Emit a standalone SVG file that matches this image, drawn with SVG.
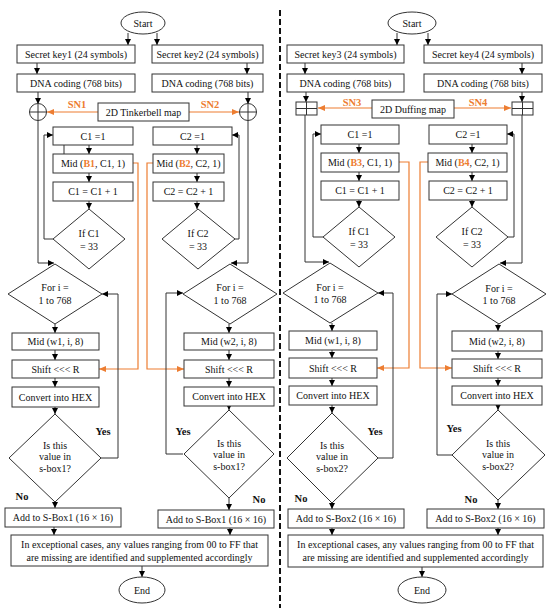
<svg xmlns="http://www.w3.org/2000/svg" width="550" height="608" viewBox="0 0 550 608">
<defs>
<marker id="ah" markerWidth="6" markerHeight="6" refX="6" refY="3" orient="auto" markerUnits="userSpaceOnUse"><path d="M0,0 L6,3 L0,6 z" fill="#000"/></marker>
<marker id="ao" markerWidth="7" markerHeight="6" refX="7" refY="3" orient="auto" markerUnits="userSpaceOnUse"><path d="M0,0 L7,3 L0,6 z" fill="#ED7D31"/></marker>
<style>
.b{fill:#fff;stroke:#333;stroke-width:1}
.t{font-family:"Liberation Serif","Times New Roman",serif;font-size:10px;fill:#111;text-anchor:middle}
.o{font-family:"Liberation Serif","Times New Roman",serif;font-size:10.5px;fill:#ED7D31;font-weight:bold}
.l{font-family:"Liberation Serif","Times New Roman",serif;font-size:10.5px;fill:#111;font-weight:bold;text-anchor:middle}
.s{fill:none;stroke:#333;stroke-width:1}
.c{fill:none;stroke:#333;stroke-width:1;marker-end:url(#ah)}
.oc{fill:none;stroke:#ED7D31;stroke-width:1.2;marker-end:url(#ao)}
.d{fill:none;stroke:#111;stroke-width:2;stroke-dasharray:6 3}
</style>
</defs>
<rect width="550" height="608" fill="#fff"/>
<line class="d" x1="280" y1="10" x2="280" y2="608"/>

<g id="connectors">
<!-- left half -->
<path class="c" d="M128,33 V45"/>
<path class="c" d="M157,33 V45"/>
<path class="c" d="M37,63 V74"/>
<path class="c" d="M247,63 V74"/>
<path class="c" d="M38,92 V104"/>
<path class="c" d="M248,92 V104"/>
<path class="oc" d="M98,112 H47"/>
<path class="oc" d="M189,112 H239"/>
<path class="c" d="M38,120 V263 H54"/>
<path class="c" d="M248,120 V263 H231"/>
<path class="c" d="M89,145 V154"/>
<path class="c" d="M89,173 V182"/>
<path class="c" d="M89,201 V209"/>
<path class="c" d="M53,239 H44 V135 H53"/>
<path class="s" d="M64,141 V154"/>
<path class="c" d="M197,145 V154"/>
<path class="c" d="M197,173 V182"/>
<path class="c" d="M197,201 V209"/>
<path class="c" d="M235,239 H239 V135 H232"/>
<path class="oc" d="M133,163 H138 V369 H99"/>
<path class="oc" d="M153,163 H147 V369 H184"/>
<path class="c" d="M55,324 V333"/>
<path class="c" d="M55,350 V360"/>
<path class="c" d="M55,378 V387"/>
<path class="c" d="M55,407 V414"/>
<path class="c" d="M55,502 V508"/>
<path class="c" d="M101,458 H118 V294 H102"/>
<path class="c" d="M229,324 V333"/>
<path class="c" d="M229,350 V360"/>
<path class="c" d="M229,378 V387"/>
<path class="c" d="M229,406 V410"/>
<path class="c" d="M229,498 V510"/>
<path class="c" d="M183,454 H166 V293 H183"/>
<path class="c" d="M54,527 V535"/>
<path class="c" d="M230,528 V535"/>
<path class="c" d="M142,566 V577"/>
<!-- right half -->
<path class="c" d="M397,33 V45"/>
<path class="c" d="M428,33 V45"/>
<path class="c" d="M305,63 V74"/>
<path class="c" d="M522,63 V74"/>
<path class="c" d="M306,92 V102"/>
<path class="c" d="M522,92 V102"/>
<path class="oc" d="M372,108 H318"/>
<path class="oc" d="M454,108 H511"/>
<path class="c" d="M305,115 V262 H329"/>
<path class="c" d="M522,115 V263 H500"/>
<path class="c" d="M359,144 V153"/>
<path class="c" d="M359,172 V181"/>
<path class="c" d="M359,200 V207"/>
<path class="c" d="M323,237 H313 V134 H321"/>
<path class="c" d="M472,144 V153"/>
<path class="c" d="M472,172 V181"/>
<path class="c" d="M472,200 V207"/>
<path class="c" d="M508,237 H514 V134 H507"/>
<path class="oc" d="M399,162 H409 V368 H377"/>
<path class="oc" d="M428,162 H420 V368 H452"/>
<path class="c" d="M332,323 V331"/>
<path class="c" d="M332,350 V358"/>
<path class="c" d="M332,378 V386"/>
<path class="c" d="M332,405 V413"/>
<path class="c" d="M332,503 V509"/>
<path class="c" d="M378,458 H393 V293 H378"/>
<path class="c" d="M498,324 V331"/>
<path class="c" d="M498,351 V359"/>
<path class="c" d="M498,378 V386"/>
<path class="c" d="M498,405 V410"/>
<path class="c" d="M498,500 V509"/>
<path class="c" d="M452,455 H437 V294 H452"/>
<path class="c" d="M332,528 V535"/>
<path class="c" d="M498,528 V535"/>
<path class="c" d="M422,567 V577"/>
</g>

<g id="labels">
<text class="o" x="77" y="108" text-anchor="middle">SN1</text>
<text class="o" x="210" y="108" text-anchor="middle">SN2</text>
<text class="o" x="352" y="106" text-anchor="middle">SN3</text>
<text class="o" x="478" y="106" text-anchor="middle">SN4</text>
<text class="l" x="103" y="435">Yes</text>
<text class="l" x="183" y="435">Yes</text>
<text class="l" x="22" y="500">No</text>
<text class="l" x="259" y="503">No</text>
<text class="l" x="375" y="435">Yes</text>
<text class="l" x="454" y="432">Yes</text>
<text class="l" x="301" y="502">No</text>
<text class="l" x="471" y="503">No</text>
</g>

<!-- Left half nodes -->
<g id="start1"><ellipse class="b" cx="143" cy="23" rx="22" ry="11"/><text class="t" x="143" y="27">Start</text></g>
<g id="key1"><rect class="b" x="17" y="45" width="118" height="18"/><text class="t" x="76" y="57.5">Secret key1 (24 symbols)</text></g>
<g id="key2"><rect class="b" x="152" y="45" width="111" height="18"/><text class="t" x="207.5" y="57.5">Secret key2 (24 symbols)</text></g>
<g id="dna1"><rect class="b" x="17" y="74" width="118" height="18"/><text class="t" x="76" y="86.5">DNA coding (768 bits)</text></g>
<g id="dna2"><rect class="b" x="152" y="74" width="111" height="18"/><text class="t" x="207.5" y="86.5">DNA coding (768 bits)</text></g>
<g id="xor1"><circle class="b" cx="38" cy="112" r="8.5"/><path class="s" d="M29.5,112 H46.5 M38,103.5 V120.5"/></g>
<g id="xor2"><circle class="b" cx="248" cy="112" r="8.5"/><path class="s" d="M239.5,112 H256.5 M248,103.5 V120.5"/></g>
<g id="tinkerbell"><rect class="b" x="98" y="103" width="91" height="18"/><text class="t" x="143.5" y="115.5">2D Tinkerbell map</text></g>
<g id="c1init"><rect class="b" x="53" y="127" width="80" height="18"/><text class="t" x="93" y="139.5">C1 =1</text></g>
<g id="mid1"><rect class="b" x="53" y="154" width="80" height="19"/><text class="t" x="93" y="167">Mid (<tspan fill="#ED7D31" font-weight="bold">B1</tspan>, C1, 1)</text></g>
<g id="c1inc"><rect class="b" x="53" y="182" width="80" height="19"/><text class="t" x="93" y="195">C1 = C1 + 1</text></g>
<g id="ifc1"><polygon class="b" points="89,209 125,239 89,269 53,239"/><text class="t" x="89" y="237">If C1</text><text class="t" x="89" y="250">= 33</text></g>
<g id="c2init"><rect class="b" x="153" y="127" width="79" height="18"/><text class="t" x="192.5" y="139.5">C2 =1</text></g>
<g id="mid2"><rect class="b" x="153" y="154" width="71" height="19"/><text class="t" x="188.5" y="167">Mid (<tspan fill="#ED7D31" font-weight="bold">B2</tspan>, C2, 1)</text></g>
<g id="c2inc"><rect class="b" x="153" y="182" width="71" height="19"/><text class="t" x="188.5" y="195">C2 = C2 + 1</text></g>
<g id="ifc2"><polygon class="b" points="198,209 235,239 198,269 162,239"/><text class="t" x="198" y="237">If C2</text><text class="t" x="198" y="250">= 33</text></g>
<g id="for1"><polygon class="b" points="55,264 102,294 55,324 8,294"/><text class="t" x="55" y="291">For i =</text><text class="t" x="55" y="304">1 to 768</text></g>
<g id="midw1"><rect class="b" x="12" y="333" width="87" height="17"/><text class="t" x="55.5" y="345">Mid (w1, i, 8)</text></g>
<g id="shift1"><rect class="b" x="12" y="360" width="87" height="18"/><text class="t" x="55.5" y="372.5">Shift &lt;&lt;&lt; R</text></g>
<g id="hex1"><rect class="b" x="12" y="387" width="87" height="20"/><text class="t" x="55.5" y="400.5">Convert into HEX</text></g>
<g id="sbox1a"><polygon class="b" points="55,414 101,458 55,502 9,458"/><text class="t" x="55" y="449">Is this</text><text class="t" x="55" y="460">value in</text><text class="t" x="55" y="472">s-box1?</text></g>
<g id="add1"><rect class="b" x="5" y="508" width="116" height="19"/><text class="t" x="63" y="521">Add to S-Box1 (16 × 16)</text></g>
<g id="for2"><polygon class="b" points="230,264 277,294 230,324 183,294"/><text class="t" x="230" y="291">For i =</text><text class="t" x="230" y="304">1 to 768</text></g>
<g id="midw2"><rect class="b" x="184" y="333" width="90" height="17"/><text class="t" x="229" y="345">Mid (w2, i, 8)</text></g>
<g id="shift2"><rect class="b" x="184" y="360" width="90" height="18"/><text class="t" x="229" y="372.5">Shift &lt;&lt;&lt; R</text></g>
<g id="hex2"><rect class="b" x="184" y="387" width="90" height="19"/><text class="t" x="229" y="400">Convert into HEX</text></g>
<g id="sbox1b"><polygon class="b" points="229,410 274,454 229,498 184,454"/><text class="t" x="229" y="447">Is this</text><text class="t" x="229" y="458">value in</text><text class="t" x="229" y="470">s-box1?</text></g>
<g id="add2"><rect class="b" x="158" y="510" width="116" height="18"/><text class="t" x="216" y="522.5">Add to S-Box1 (16 × 16)</text></g>
<g id="exc1"><rect class="b" x="11" y="535" width="257" height="31"/><text class="t" x="139.5" y="548">In exceptional cases, any values ranging from 00 to FF that</text><text class="t" x="139.5" y="561">are missing are identified and supplemented accordingly</text></g>
<g id="end1"><ellipse class="b" cx="142" cy="590" rx="23" ry="13"/><text class="t" x="142" y="593.5">End</text></g>

<!-- Right half nodes -->
<g id="start2"><ellipse class="b" cx="412" cy="23" rx="24" ry="11"/><text class="t" x="412" y="27">Start</text></g>
<g id="key3"><rect class="b" x="287" y="45" width="117" height="18"/><text class="t" x="345.5" y="57.5">Secret key3 (24 symbols)</text></g>
<g id="key4"><rect class="b" x="424" y="45" width="118" height="18"/><text class="t" x="483" y="57.5">Secret key4 (24 symbols)</text></g>
<g id="dna3"><rect class="b" x="287" y="74" width="117" height="18"/><text class="t" x="345.5" y="86.5">DNA coding (768 bits)</text></g>
<g id="dna4"><rect class="b" x="424" y="74" width="118" height="18"/><text class="t" x="483" y="86.5">DNA coding (768 bits)</text></g>
<g id="bp3"><rect class="b" x="296" y="102" width="21" height="13"/><path class="s" d="M296,108.5 H317 M306.5,102 V115"/></g>
<g id="bp4"><rect class="b" x="512" y="102" width="21" height="13"/><path class="s" d="M512,108.5 H533 M522.5,102 V115"/></g>
<g id="duffing"><rect class="b" x="372" y="100" width="82" height="18"/><text class="t" x="413" y="112.5">2D Duffing map</text></g>
<g id="c1init2"><rect class="b" x="321" y="125" width="78" height="19"/><text class="t" x="360" y="138">C1 =1</text></g>
<g id="mid3"><rect class="b" x="321" y="153" width="78" height="19"/><text class="t" x="360" y="166">Mid (<tspan fill="#ED7D31" font-weight="bold">B3</tspan>, C1, 1)</text></g>
<g id="c1inc2"><rect class="b" x="321" y="181" width="78" height="19"/><text class="t" x="360" y="194">C1 = C1 + 1</text></g>
<g id="ifc1b"><polygon class="b" points="359,207 395,237 359,267 323,237"/><text class="t" x="359" y="235">If C1</text><text class="t" x="359" y="248">= 33</text></g>
<g id="c2init2"><rect class="b" x="429" y="125" width="78" height="19"/><text class="t" x="468" y="138">C2 =1</text></g>
<g id="mid4"><rect class="b" x="428" y="153" width="79" height="19"/><text class="t" x="467.5" y="166">Mid (<tspan fill="#ED7D31" font-weight="bold">B4</tspan>, C2, 1)</text></g>
<g id="c2inc2"><rect class="b" x="429" y="181" width="78" height="19"/><text class="t" x="468" y="194">C2 = C2 + 1</text></g>
<g id="ifc2b"><polygon class="b" points="472,207 508,237 472,267 436,237"/><text class="t" x="472" y="235">If C2</text><text class="t" x="472" y="248">= 33</text></g>
<g id="for3"><polygon class="b" points="330,263 378,293 330,323 283,293"/><text class="t" x="330" y="291">For i =</text><text class="t" x="330" y="303">1 to 768</text></g>
<g id="midw3"><rect class="b" x="289" y="331" width="88" height="19"/><text class="t" x="333" y="344">Mid (w1, i, 8)</text></g>
<g id="shift3"><rect class="b" x="289" y="358" width="88" height="20"/><text class="t" x="333" y="371.5">Shift &lt;&lt;&lt; R</text></g>
<g id="hex3"><rect class="b" x="289" y="386" width="88" height="19"/><text class="t" x="333" y="399">Convert into HEX</text></g>
<g id="sbox2a"><polygon class="b" points="332,413 378,458 332,503 287,458"/><text class="t" x="332" y="449">Is this</text><text class="t" x="332" y="460">value in</text><text class="t" x="332" y="472">s-box2?</text></g>
<g id="add3"><rect class="b" x="288" y="509" width="116" height="19"/><text class="t" x="346" y="522">Add to S-Box2 (16 × 16)</text></g>
<g id="for4"><polygon class="b" points="499,264 546,294 499,324 452,294"/><text class="t" x="499" y="292">For i =</text><text class="t" x="499" y="304">1 to 768</text></g>
<g id="midw4"><rect class="b" x="452" y="331" width="90" height="20"/><text class="t" x="497" y="344.5">Mid (w2, i, 8)</text></g>
<g id="shift4"><rect class="b" x="452" y="359" width="90" height="19"/><text class="t" x="497" y="372">Shift &lt;&lt;&lt; R</text></g>
<g id="hex4"><rect class="b" x="452" y="386" width="90" height="19"/><text class="t" x="497" y="399">Convert into HEX</text></g>
<g id="sbox2b"><polygon class="b" points="498,410 545,455 498,500 452,455"/><text class="t" x="498" y="447">Is this</text><text class="t" x="498" y="458">value in</text><text class="t" x="498" y="470">s-box2?</text></g>
<g id="add4"><rect class="b" x="427" y="509" width="117" height="19"/><text class="t" x="485.5" y="522">Add to S-Box2 (16 × 16)</text></g>
<g id="exc2"><rect class="b" x="288" y="535" width="255" height="32"/><text class="t" x="415.5" y="548">In exceptional cases, any values ranging from 00 to FF that</text><text class="t" x="415.5" y="561">are missing are identified and supplemented accordingly</text></g>
<g id="end2"><ellipse class="b" cx="422" cy="590" rx="24" ry="13"/><text class="t" x="422" y="593.5">End</text></g>
</svg>
